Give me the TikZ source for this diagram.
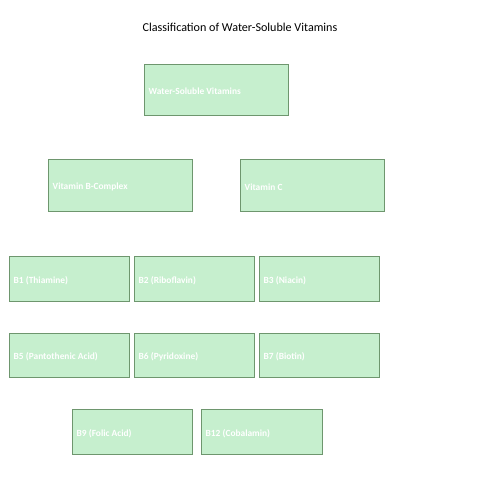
\documentclass[tikz,border=0pt]{standalone}
\usepackage{fontspec}
\setmainfont{Carlito}
\usetikzlibrary{shadows}
\definecolor{boxfill}{RGB}{198,239,206}
\definecolor{boxdraw}{RGB}{110,150,110}
\tikzset{
  vbox/.style={draw=boxdraw, line width=0.8pt, fill=boxfill, rectangle,
    drop shadow={shadow xshift=0.8pt, shadow yshift=-0.8pt, opacity=0.35}},
  vlabel/.style={anchor=west, text=white, font=\fontsize{9.4}{10}\selectfont\bfseries, inner sep=0pt},
  titletext/.style={font=\fontsize{12.1}{14}\selectfont, text=black}
}
\newcommand{\vitbox}[6]{% name, x1, y1, x2, y2, text
  \path[vbox] (#2,#3) rectangle (#4,#5);
  \node[vlabel] (#1) at (#2+4.5,{(#3+#5)/2+2}) {#6};
}
\begin{document}
\begin{tikzpicture}[x=1pt,y=-1pt]
\useasboundingbox (0,0) rectangle (480,480);
\fill[white] (0,0) rectangle (480,480);
\node[titletext] (title) at (240,27) {Classification of Water-Soluble Vitamins};
\vitbox{wsv}{144}{64}{288}{115}{Water-Soluble Vitamins}
\vitbox{bc}{48}{159}{192}{211}{Vitamin B-Complex}
\vitbox{vc}{240}{159}{384}{211}{Vitamin C}
\vitbox{b1}{9}{256}{129}{301}{B1 (Thiamine)}
\vitbox{b2}{134}{256}{254}{301}{B2 (Riboflavin)}
\vitbox{b3}{259}{256}{379}{301}{B3 (Niacin)}
\vitbox{b5}{9}{333}{129}{377}{B5 (Pantothenic Acid)}
\vitbox{b6}{134}{333}{254}{377}{B6 (Pyridoxine)}
\vitbox{b7}{259}{333}{379}{377}{B7 (Biotin)}
\vitbox{b9}{72}{409}{192}{454}{B9 (Folic Acid)}
\vitbox{b12}{201}{409}{322}{454}{B12 (Cobalamin)}
\end{tikzpicture}
\end{document}
